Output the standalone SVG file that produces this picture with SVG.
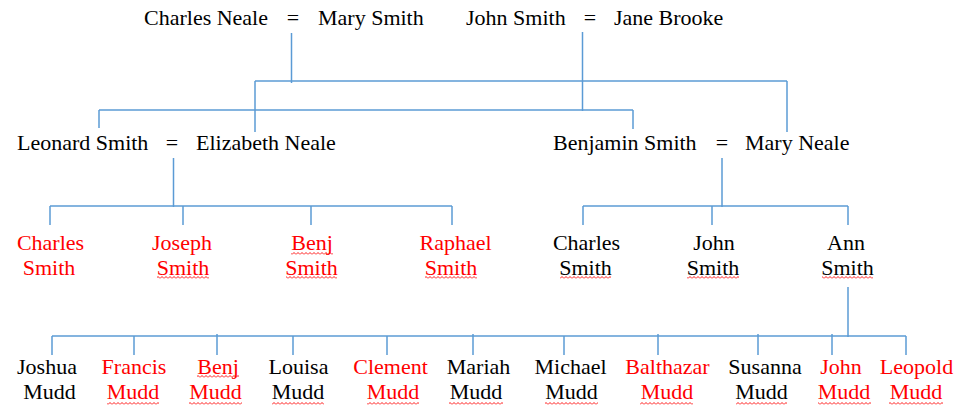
<svg xmlns="http://www.w3.org/2000/svg" width="961" height="414" viewBox="0 0 961 414">
<style>
.r{fill:#ff0000}
.m{text-anchor:middle}
.c line{stroke:#5b9bd5;stroke-width:1.5}
</style>
<defs>
<pattern id="sq" patternUnits="userSpaceOnUse" width="4" height="3">
<path d="M0,2.5 L2,0.5 L4,2.5" fill="none" stroke="#ff0000" stroke-width="0.9"/>
</pattern>
</defs>
<rect width="961" height="414" fill="#fff"/>
<g class="c" id="connectors">
<line x1="291.5" y1="33" x2="291.5" y2="83"/>
<line x1="255" y1="81" x2="787" y2="81"/>
<line x1="255" y1="81" x2="255" y2="132"/>
<line x1="787" y1="81" x2="787" y2="132"/>
<line x1="582.5" y1="32" x2="582.5" y2="111"/>
<line x1="99" y1="110" x2="633" y2="110"/>
<line x1="99" y1="110" x2="99" y2="128"/>
<line x1="633" y1="110" x2="633" y2="129"/>
<line x1="173.5" y1="158" x2="173.5" y2="207"/>
<line x1="50" y1="206" x2="452" y2="206"/>
<line x1="50" y1="206" x2="50" y2="225"/>
<line x1="183" y1="206" x2="183" y2="225"/>
<line x1="311" y1="206" x2="311" y2="225"/>
<line x1="452" y1="206" x2="452" y2="225"/>
<line x1="722" y1="158" x2="722" y2="207"/>
<line x1="583" y1="206" x2="848" y2="206"/>
<line x1="583" y1="206" x2="583" y2="225"/>
<line x1="712" y1="206" x2="712" y2="225"/>
<line x1="848" y1="206" x2="848" y2="225"/>
<line x1="848" y1="287" x2="848" y2="337"/>
<line x1="52" y1="336" x2="906" y2="336"/>
<line x1="52" y1="336" x2="52" y2="355"/>
<line x1="134" y1="336" x2="134" y2="355"/>
<line x1="217" y1="334" x2="217" y2="355"/>
<line x1="293" y1="336" x2="293" y2="355"/>
<line x1="387" y1="336" x2="387" y2="355"/>
<line x1="473" y1="334" x2="473" y2="355"/>
<line x1="564" y1="336" x2="564" y2="355"/>
<line x1="658" y1="334" x2="658" y2="355"/>
<line x1="758" y1="334" x2="758" y2="355"/>
<line x1="832" y1="334" x2="832" y2="355"/>
<line x1="906" y1="336" x2="906" y2="355"/>
</g>
<g id="gen1">
<g id="charles-neale"><text x="144" y="25" font-family="Liberation Serif" font-size="22">Charles Neale</text></g>
<text x="293" y="25" class="m" font-family="Liberation Serif" font-size="22">=</text>
<g id="mary-smith"><text x="318" y="25" font-family="Liberation Serif" font-size="22">Mary Smith</text></g>
<g id="john-smith-sr"><text x="466" y="25" font-family="Liberation Serif" font-size="22">John Smith</text></g>
<text x="590" y="25" class="m" font-family="Liberation Serif" font-size="22">=</text>
<g id="jane-brooke"><text x="614" y="25" font-family="Liberation Serif" font-size="22">Jane Brooke</text></g>
</g>
<g id="gen2">
<g id="leonard-smith"><text x="17" y="150" font-family="Liberation Serif" font-size="22">Leonard Smith</text></g>
<text x="172" y="150" class="m" font-family="Liberation Serif" font-size="22">=</text>
<g id="elizabeth-neale"><text x="196" y="150" font-family="Liberation Serif" font-size="22">Elizabeth Neale</text></g>
<g id="benjamin-smith"><text x="553" y="150" font-family="Liberation Serif" font-size="22">Benjamin Smith</text></g>
<text x="722" y="150" class="m" font-family="Liberation Serif" font-size="22">=</text>
<g id="mary-neale"><text x="745" y="150" font-family="Liberation Serif" font-size="22">Mary Neale</text></g>
</g>
<g id="gen3">
<g id="charles-smith-r"><text class="r m" x="50.5" y="250" font-family="Liberation Serif" font-size="22">Charles</text><text class="r m" x="49" y="275" font-family="Liberation Serif" font-size="22">Smith</text></g>
<g id="joseph-smith"><text class="r m" x="182" y="250" font-family="Liberation Serif" font-size="22">Joseph</text><text class="r m" x="183" y="275" font-family="Liberation Serif" font-size="22">Smith</text><rect x="157" y="276" width="52" height="3" fill="url(#sq)"/></g>
<g id="benj-smith"><text class="r m" x="312" y="250" font-family="Liberation Serif" font-size="22">Benj</text><text class="r m" x="311.5" y="275" font-family="Liberation Serif" font-size="22">Smith</text><rect x="291" y="252" width="42" height="3" fill="url(#sq)"/><rect x="286" y="276" width="51" height="3" fill="url(#sq)"/></g>
<g id="raphael-smith"><text class="r m" x="455.5" y="250" font-family="Liberation Serif" font-size="22">Raphael</text><text class="r m" x="451" y="275" font-family="Liberation Serif" font-size="22">Smith</text><rect x="425" y="276" width="52" height="3" fill="url(#sq)"/></g>
<g id="charles-smith"><text class="m" x="586.5" y="250" font-family="Liberation Serif" font-size="22">Charles</text><text class="m" x="585.5" y="275" font-family="Liberation Serif" font-size="22">Smith</text><rect x="560" y="276" width="51" height="3" fill="url(#sq)"/></g>
<g id="john-smith"><text class="m" x="714" y="250" font-family="Liberation Serif" font-size="22">John</text><text class="m" x="713" y="275" font-family="Liberation Serif" font-size="22">Smith</text><rect x="687" y="276" width="52" height="3" fill="url(#sq)"/></g>
<g id="ann-smith"><text class="m" x="846" y="250" font-family="Liberation Serif" font-size="22">Ann</text><text class="m" x="847.5" y="275" font-family="Liberation Serif" font-size="22">Smith</text><rect x="822" y="276" width="51" height="3" fill="url(#sq)"/></g>
</g>
<g id="gen4">
<g id="joshua-mudd"><text class="m" x="47" y="374" font-family="Liberation Serif" font-size="22">Joshua</text><text class="m" x="49.5" y="399" font-family="Liberation Serif" font-size="22">Mudd</text></g>
<g id="francis-mudd"><text class="r m" x="134" y="374" font-family="Liberation Serif" font-size="22">Francis</text><text class="r m" x="133" y="399" font-family="Liberation Serif" font-size="22">Mudd</text><rect x="107" y="402" width="52" height="3" fill="url(#sq)"/></g>
<g id="benj-mudd"><text class="r m" x="218" y="374" font-family="Liberation Serif" font-size="22">Benj</text><text class="r m" x="215.5" y="399" font-family="Liberation Serif" font-size="22">Mudd</text><rect x="197" y="375" width="42" height="3" fill="url(#sq)"/><rect x="189" y="402" width="53" height="3" fill="url(#sq)"/></g>
<g id="louisa-mudd"><text class="m" x="298.5" y="374" font-family="Liberation Serif" font-size="22">Louisa</text><text class="m" x="298" y="399" font-family="Liberation Serif" font-size="22">Mudd</text><rect x="272" y="402" width="52" height="3" fill="url(#sq)"/></g>
<g id="clement-mudd"><text class="r m" x="390.5" y="374" font-family="Liberation Serif" font-size="22">Clement</text><text class="r m" x="393" y="399" font-family="Liberation Serif" font-size="22">Mudd</text><rect x="367" y="402" width="52" height="3" fill="url(#sq)"/></g>
<g id="mariah-mudd"><text class="m" x="478.5" y="374" font-family="Liberation Serif" font-size="22">Mariah</text><text class="m" x="476" y="399" font-family="Liberation Serif" font-size="22">Mudd</text><rect x="449" y="402" width="54" height="3" fill="url(#sq)"/></g>
<g id="michael-mudd"><text class="m" x="570.5" y="374" font-family="Liberation Serif" font-size="22">Michael</text><text class="m" x="571.5" y="399" font-family="Liberation Serif" font-size="22">Mudd</text><rect x="545" y="402" width="53" height="3" fill="url(#sq)"/></g>
<g id="balthazar-mudd"><text class="r m" x="667.5" y="374" font-family="Liberation Serif" font-size="22">Balthazar</text><text class="r m" x="667" y="399" font-family="Liberation Serif" font-size="22">Mudd</text><rect x="640" y="402" width="53" height="3" fill="url(#sq)"/></g>
<g id="susanna-mudd"><text class="m" x="765" y="374" font-family="Liberation Serif" font-size="22">Susanna</text><text class="m" x="761.5" y="399" font-family="Liberation Serif" font-size="22">Mudd</text><rect x="736" y="402" width="51" height="3" fill="url(#sq)"/></g>
<g id="john-mudd"><text class="r m" x="841" y="374" font-family="Liberation Serif" font-size="22">John</text><text class="r m" x="844" y="399" font-family="Liberation Serif" font-size="22">Mudd</text><rect x="818" y="402" width="53" height="3" fill="url(#sq)"/></g>
<g id="leopold-mudd"><text class="r m" x="916.5" y="374" font-family="Liberation Serif" font-size="22">Leopold</text><text class="r m" x="916" y="399" font-family="Liberation Serif" font-size="22">Mudd</text><rect x="889" y="402" width="54" height="3" fill="url(#sq)"/></g>
</g>
</svg>
